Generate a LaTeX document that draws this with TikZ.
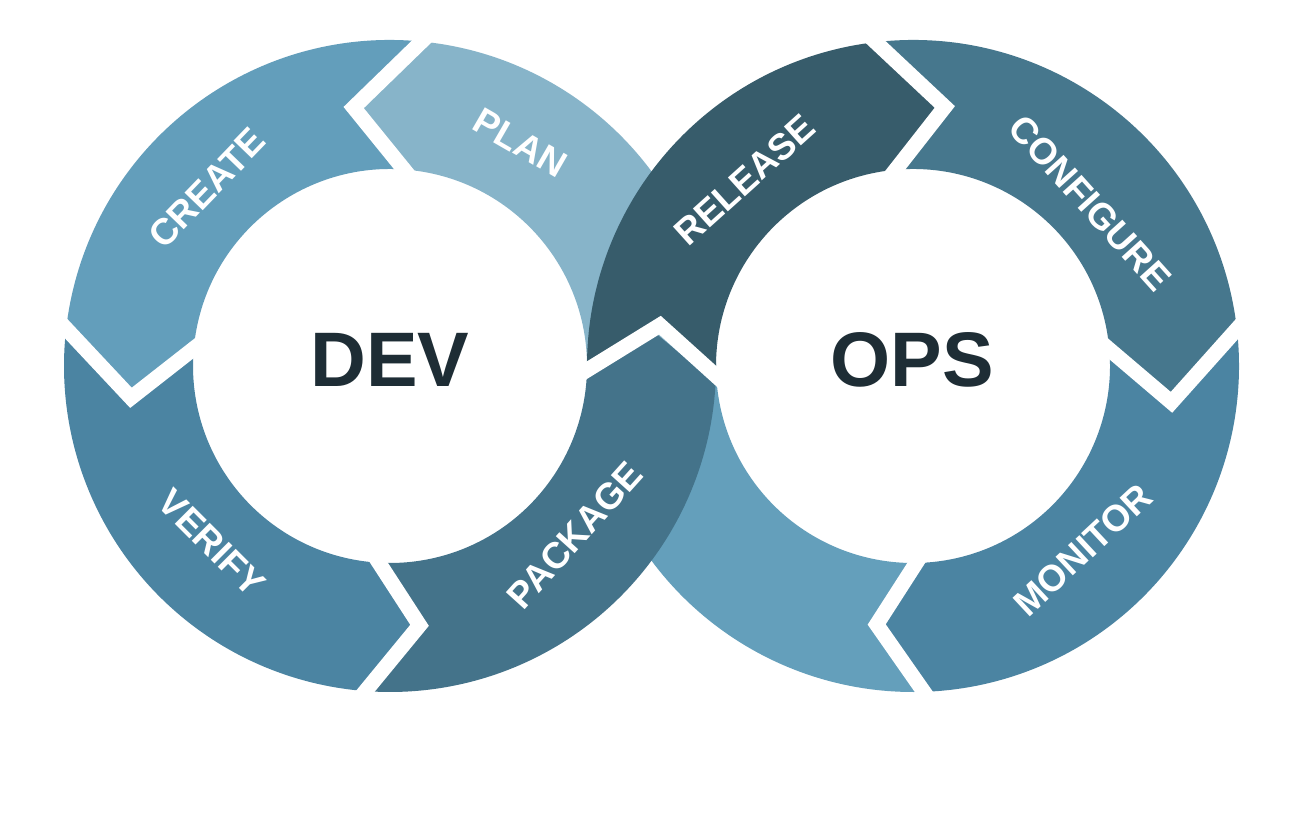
\documentclass[tikz,border=0pt]{standalone}
\usepackage{fontspec}
\setmainfont{Liberation Sans}
\definecolor{cPlan}{HTML}{87B4C9}
\definecolor{cCreate}{HTML}{639EBB}
\definecolor{cVerify}{HTML}{4B84A2}
\definecolor{cPackage}{HTML}{44738A}
\definecolor{cRelease}{HTML}{375C6B}
\definecolor{cConfig}{HTML}{46778D}
\definecolor{cMonitor}{HTML}{4B84A2}
\definecolor{cLight}{HTML}{649FBB}
\definecolor{cText}{HTML}{1E2D35}
% #1 a1 (tail), #2 a2 (head), #3 tail tip offset, #4 head tip offset, #5 colour
\newcommand{\ringseg}[5]{%
  \fill[#5] (#1:326) arc[start angle=#1,end angle=#2,radius=326]
    -- ({#2+#4}:261) -- (#2:197) arc[start angle=#2,end angle=#1,radius=197]
    -- ({#1+#3}:261) -- cycle;}
\newcommand{\gapline}[2]{%
  \draw[gap] (#1:336) -- ({#1+#2}:261) -- (#1:187);}
\tikzset{
  gap/.style={white,line width=0.3cm,line join=miter},
  lbl/.style={text=white,font=\bfseries\fontsize{21}{21}\selectfont},
  big/.style={text=cText,font=\bfseries\fontsize{44}{44}\selectfont}
}
\begin{document}
\begin{tikzpicture}[x=0.02cm,y=0.02cm]
\useasboundingbox[fill=white] (0,0) rectangle (1300,825);
% left ring (flow counter-clockwise)
\begin{scope}[shift={(390,459)}]
  \ringseg{-2}{83}{0}{15}{cPlan}
  \ringseg{83}{172}{15}{15}{cCreate}
  \ringseg{172}{264.5}{15}{12}{cVerify}
\end{scope}
% right ring (flow clockwise)
\begin{scope}[shift={(913,459)}]
  \ringseg{273}{182}{-11}{0}{cLight}
  \ringseg{182.5}{98}{-12}{-15}{cRelease}
  \ringseg{98}{8}{-15}{-16}{cConfig}
  \ringseg{8}{-87}{-16}{-11}{cMonitor}
  \gapline{98}{-15}
  \gapline{8}{-16}
  \gapline{273}{-11}
\end{scope}
\begin{scope}[shift={(390,459)}]
  \ringseg{264.5}{357}{12}{11.6}{cPackage}
  \gapline{83}{15}
  \gapline{172}{15}
  \gapline{264.5}{12}
  \draw[gap] (-3:335) -- (8.6:273) -- (-3:188);
\end{scope}
\node[big] (dev) at (390,465) {DEV};
\node[big] (ops) at (912,465) {OPS};
\node[lbl,rotate=-30] (plan) at (520,682) {PLAN};
\node[lbl,rotate=46] (create) at (207,637) {CREATE};
\node[lbl,rotate=-45] (verify) at (212,282) {VERIFY};
\node[lbl,rotate=48] (package) at (575,290) {PACKAGE};
\node[lbl,rotate=42] (release) at (745,645) {RELEASE};
\node[lbl,rotate=-48] (configure) at (1090,622) {CONFIGURE};
\node[lbl,rotate=43] (monitor) at (1083,275) {MONITOR};
\end{tikzpicture}
\end{document}
